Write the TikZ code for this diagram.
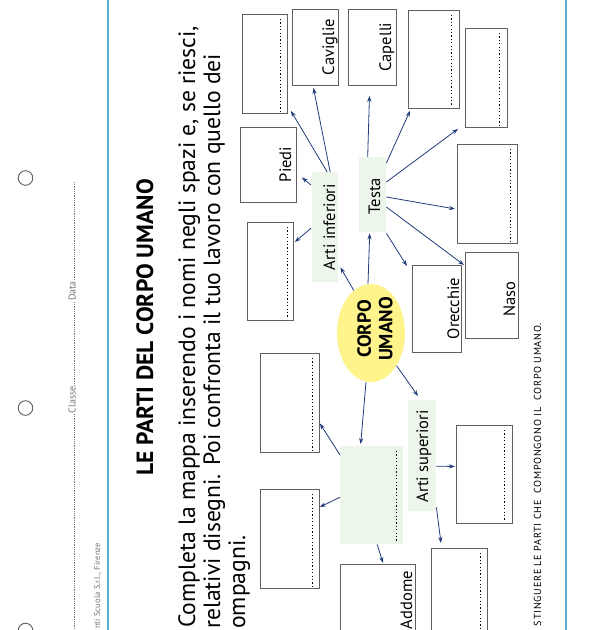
\documentclass[tikz,border=0pt]{standalone}
\usepackage{fontspec}
\setmainfont{PT Sans}
\usetikzlibrary{arrows.meta,calc,shapes.geometric}
\definecolor{navy}{RGB}{35,60,125}
\definecolor{boxgray}{RGB}{95,95,95}
\definecolor{paleg}{RGB}{236,246,234}
\definecolor{yell}{RGB}{255,243,140}
\definecolor{lblue}{RGB}{90,178,205}
\definecolor{hgray}{RGB}{120,120,120}
\begin{document}
\begin{tikzpicture}[x=1pt,y=-1pt,
  box/.style={draw=boxgray, line width=0.9pt, fill=white, inner sep=0pt, anchor=north west},
  greenbox/.style={fill=paleg, inner sep=0pt, anchor=north west},
  lbl/.style={rotate=90, anchor=base, inner sep=0pt, font=\fontsize{16.5}{19}\selectfont},
  arr/.style={draw=navy, line width=0.8pt, -{Stealth[length=6pt,width=4.2pt]}},
  dots/.style={line width=1.1pt, dash pattern=on 1.1pt off 2.3pt},
  hdots/.style={draw=hgray, line width=0.5pt, dash pattern=on 0.6pt off 1.2pt},
  small/.style={rotate=90, inner sep=0pt, text=hgray, font=\fontsize{10}{11}\selectfont}]
\useasboundingbox (0,0) rectangle (595,630);
\clip (0,0) rectangle (595,630);
\fill[white] (0,0) rectangle (595,630);

% holes and margin lines
\draw[boxgray, line width=0.9pt] (25.5,178) circle (7.3);
\draw[boxgray, line width=0.9pt] (25.5,408) circle (7.3);
\draw[boxgray, line width=0.9pt] (25.5,630.5) circle (7.3);
\draw[lblue, line width=1.2pt] (108,0) -- (108,630);
\draw[lblue, line width=1.2pt] (566,0) -- (566,630);

% header
\node[small, anchor=base] (data) at (75.5,291) {Data};
\node[small, anchor=base] (classe) at (75.5,399.5) {Classe};
\node[small, anchor=base west, font=\fontsize{8.6}{10}\selectfont] (editore) at (100,629) {nti Scuola S.r.l., Firenze};
\draw[hdots] (74,182) -- (74,280);
\draw[hdots] (74,302) -- (74,385);
\draw[hdots] (74,414) -- (74,630);

% title and instructions
\node[rotate=90, anchor=base, inner sep=0pt, font=\fontsize{23.5}{27}\bfseries\selectfont] (title) at (153,327.5) {LE PARTI DEL CORPO UMANO};
\node[rotate=90, anchor=base west, inner sep=0pt, font=\fontsize{23.6}{27}\selectfont] (line1) at (195,628) {Completa la mappa inserendo i nomi negli spazi e, se riesci,};
\node[rotate=90, anchor=base west, inner sep=0pt, font=\fontsize{23.6}{27}\selectfont] (line2) at (220,629) {relativi disegni. Poi confronta il tuo lavoro con quello dei};
\node[rotate=90, anchor=base west, inner sep=0pt, font=\fontsize{23.6}{27}\selectfont] (line3) at (245,629) {ompagni.};
\node[rotate=90, anchor=base east, inner sep=0pt, font=\fontsize{10.2}{12}\selectfont\addfontfeature{LetterSpace=7}] (foot) at (541,323) {STINGUERE LE PARTI CHE \ COMPONGONO IL \ CORPO UMANO.};

% central node
\node[ellipse, fill=yell, minimum width=68pt, minimum height=98pt, inner sep=0pt] (corpo) at (371,333) {};
\node[rotate=90, align=center, inner sep=0pt, font=\fontsize{19}{21.5}\bfseries\selectfont] (tcorpo) at (375,329) {CORPO\\UMANO};

% green category boxes
\node[greenbox, minimum width=26pt, minimum height=110pt] (artiinf) at (312,172) {};
\node[greenbox, minimum width=27pt, minimum height=75pt] (testa) at (359,157) {};
\node[greenbox, minimum width=28pt, minimum height=111pt] (artisup) at (408,400) {};
\node[greenbox, minimum width=63pt, minimum height=98pt] (tronco) at (340,446) {};

% answer boxes
\node[box, minimum width=45pt, minimum height=99pt] (A) at (242,14) {};
\node[box, minimum width=46pt, minimum height=76pt] (cav) at (292,9) {};
\node[box, minimum width=48pt, minimum height=76pt] (cap) at (348,9) {};
\node[box, minimum width=51pt, minimum height=98pt] (D) at (408,10) {};
\node[box, minimum width=42pt, minimum height=99pt] (E) at (465,28) {};
\node[box, minimum width=56pt, minimum height=75pt] (piedi) at (240,127) {};
\node[box, minimum width=46pt, minimum height=98pt] (G) at (247,222) {};
\node[box, minimum width=60pt, minimum height=99pt] (H) at (457,144) {};
\node[box, minimum width=49pt, minimum height=87pt] (orecchie) at (412,265) {};
\node[box, minimum width=53pt, minimum height=86pt] (naso) at (465,252) {};
\node[box, minimum width=59pt, minimum height=99pt] (I) at (260,353) {};
\node[box, minimum width=59pt, minimum height=99pt] (J) at (260,489) {};
\node[box, minimum width=56pt, minimum height=98pt] (K) at (456,425) {};
\node[box, minimum width=75pt, minimum height=96pt] (addome) at (340,564) {};
\node[box, minimum width=56pt, minimum height=112pt] (L) at (431,548) {};

% dotted writing lines
\draw[dots] ($(A.north east)+(-7,5)$) -- ($(A.south east)+(-7,-3)$);
\draw[dots] ($(D.north east)+(-8,5)$) -- ($(D.south east)+(-8,-3)$);
\draw[dots] ($(E.north east)+(-8,5)$) -- ($(E.south east)+(-8,-3)$);
\draw[dots] ($(G.north east)+(-6,5)$) -- ($(G.south east)+(-6,-3)$);
\draw[dots] ($(H.north east)+(-7,5)$) -- ($(H.south east)+(-7,-3)$);
\draw[dots] ($(I.north east)+(-7,5)$) -- ($(I.south east)+(-7,-3)$);
\draw[dots] ($(J.north east)+(-7,5)$) -- ($(J.south east)+(-7,-3)$);
\draw[dots] ($(K.north east)+(-8,5)$) -- ($(K.south east)+(-8,-3)$);
\draw[dots] ($(L.north east)+(-7,5)$) -- ($(L.south east)+(-7,-3)$);
\draw[dots] ($(tronco.north east)+(-7,5)$) -- ($(tronco.south east)+(-7,-3)$);

% labels
\node[lbl] (tcav) at (334,47) {Caviglie};
\node[lbl] (tcap) at (391,47) {Capelli};
\node[lbl] (tpiedi) at (291,164.5) {Piedi};
\node[lbl] (tartiinf) at (335,227) {Arti inferiori};
\node[lbl] (ttesta) at (380,196) {Testa};
\node[lbl] (torecchie) at (459,308.5) {Orecchie};
\node[lbl] (tnaso) at (515,299) {Naso};
\node[lbl] (tartisup) at (428,456.5) {Arti superiori};
\node[lbl] (taddome) at (412,600) {Addome};

% connectors
\draw[arr] (corpo.112) -- ($(artiinf.south east)+(2,-15)$);
\draw[arr] ($(corpo.north)+(-3,0)$) -- ($(testa.south)+(-3,1)$);
\draw[arr] (corpo.-52) -- ($(artisup.north west)+(10,-4)$);
\draw[arr] ($(corpo.south)+(-5,0)$) -- ($(tronco.north)+(-11,-2)$);

\draw[arr] ($(artiinf.north)+(2,0)$) -- ($(A.south east)+(3,-3)$);
\draw[arr] ($(artiinf.north)+(5,0)$) -- ($(cav.south)+(-2,2)$);
\draw[arr] ($(artiinf.north west)+(-1,13)$) -- ($(piedi.east)+(5,12.5)$);
\draw[arr] ($(artiinf.west)+(-1,1)$) -- ($(G.north east)+(1,20)$);

\draw[arr] ($(testa.north)+(-5,0)$) -- ($(cap.south)+(-3,10)$);
\draw[arr] ($(testa.north east)+(0,6)$) -- ($(D.south west)+(2,2)$);
\draw[arr] ($(testa.north east)+(0,25)$) -- ($(E.south west)+(-7,1)$);
\draw[arr] ($(testa.north east)+(0,40)$) -- ($(H.west)+(-2,15)$);
\draw[arr] ($(testa.north east)+(0,50)$) -- ($(naso.north west)+(-1,13)$);
\draw[arr] ($(testa.south east)+(0,1)$) -- ($(orecchie.north west)+(-5,1)$);

\draw[arr] ($(artisup.east)+(0,10.5)$) -- ($(K.west)+(-1,-8)$);
\draw[arr] ($(artisup.south east)+(0,-4)$) -- ($(L.north west)+(10,-5)$);

\draw[arr] ($(tronco.north west)+(0,9)$) -- ($(I.east)+(0,20.5)$);
\draw[arr] ($(tronco.west)+(0,2)$) -- ($(J.north east)+(0,18)$);
\draw[arr] ($(tronco.south)+(5.5,0)$) -- ($(addome.north west)+(43,-1)$);
\end{tikzpicture}
\end{document}
